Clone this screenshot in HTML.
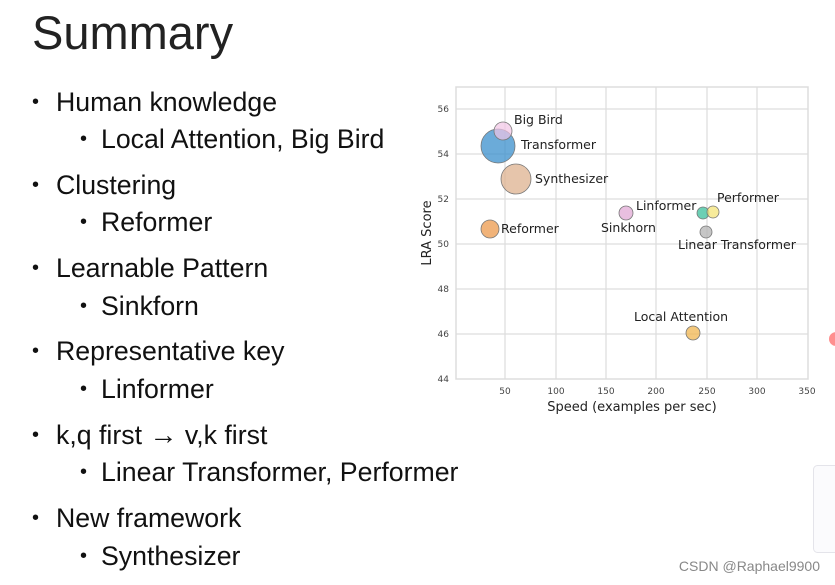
<!DOCTYPE html>
<html><head><meta charset="utf-8"><style>
body{margin:0;width:835px;height:585px;background:#fff;position:relative;overflow:hidden;font-family:"Liberation Sans",sans-serif;color:#111}
.t{position:absolute;white-space:nowrap;font-size:26.7px;line-height:30px}
.b{position:absolute;font-size:20px;line-height:30px}
</style></head><body>
<div class="t" style="left:32px;top:5px;font-size:47px;line-height:56px;color:#222">Summary</div>
<div class="b" style="left:32px;top:87px">•</div><div class="t" style="left:56px;top:87px">Human knowledge</div>
<div class="b" style="left:80px;top:124px">•</div><div class="t" style="left:101px;top:124px">Local Attention, Big Bird</div>
<div class="b" style="left:32px;top:170px">•</div><div class="t" style="left:56px;top:170px">Clustering</div>
<div class="b" style="left:80px;top:207px">•</div><div class="t" style="left:101px;top:207px">Reformer</div>
<div class="b" style="left:32px;top:253px">•</div><div class="t" style="left:56px;top:253px">Learnable Pattern</div>
<div class="b" style="left:80px;top:291px">•</div><div class="t" style="left:101px;top:291px">Sinkforn</div>
<div class="b" style="left:32px;top:336px">•</div><div class="t" style="left:56px;top:336px">Representative key</div>
<div class="b" style="left:80px;top:374px">•</div><div class="t" style="left:101px;top:374px">Linformer</div>
<div class="b" style="left:32px;top:420px">•</div><div class="t" style="left:56px;top:420px">k,q first <span style="font-size:28px">→</span> v,k first</div>
<div class="b" style="left:80px;top:457px">•</div><div class="t" style="left:101px;top:457px">Linear Transformer, Performer</div>
<div class="b" style="left:32px;top:503px">•</div><div class="t" style="left:56px;top:503px">New framework</div>
<div class="b" style="left:80px;top:541px">•</div><div class="t" style="left:101px;top:541px">Synthesizer</div>

<svg width="835" height="585" style="position:absolute;left:0;top:0" font-family="DejaVu Sans, sans-serif">
<rect x="456" y="87" width="352" height="292" fill="#fff" stroke="#ddd" stroke-width="1.5"/>
<g stroke="#ddd" stroke-width="1.2">
<line x1="505" y1="87" x2="505" y2="379"/><line x1="556" y1="87" x2="556" y2="379"/><line x1="606" y1="87" x2="606" y2="379"/><line x1="656" y1="87" x2="656" y2="379"/><line x1="707" y1="87" x2="707" y2="379"/><line x1="757" y1="87" x2="757" y2="379"/>
<line x1="456" y1="109" x2="808" y2="109"/><line x1="456" y1="154" x2="808" y2="154"/><line x1="456" y1="199" x2="808" y2="199"/><line x1="456" y1="244" x2="808" y2="244"/><line x1="456" y1="289" x2="808" y2="289"/><line x1="456" y1="334" x2="808" y2="334"/>
</g>
<g font-size="9" fill="#444" text-anchor="end">
<text x="449" y="112">56</text><text x="449" y="157">54</text><text x="449" y="202">52</text><text x="449" y="247">50</text><text x="449" y="292">48</text><text x="449" y="337">46</text><text x="449" y="382">44</text>
</g>
<g font-size="9" fill="#444" text-anchor="middle">
<text x="505" y="394">50</text><text x="556" y="394">100</text><text x="606" y="394">150</text><text x="656" y="394">200</text><text x="707" y="394">250</text><text x="757" y="394">300</text><text x="807" y="394">350</text>
</g>
<text x="632" y="411" font-size="13" fill="#222" text-anchor="middle">Speed (examples per sec)</text>
<text transform="translate(431,233) rotate(-90)" font-size="13" fill="#222" text-anchor="middle">LRA Score</text>
<g stroke="#777" stroke-width="0.8" fill-opacity="0.75">
<circle cx="498" cy="146" r="17" fill="#3a8fcc"/>
<circle cx="503" cy="131" r="9" fill="#f2c4e6" fill-opacity="0.7"/>
<circle cx="516" cy="179" r="15" fill="#ddb18f"/>
<circle cx="490" cy="229" r="9" fill="#ec9a4c"/>
<circle cx="626" cy="213" r="7" fill="#e2aad6"/>
<circle cx="703" cy="213" r="6" fill="#3bbf9b"/>
<circle cx="713" cy="212" r="6" fill="#f4e47a"/>
<circle cx="706" cy="232" r="6" fill="#b3b3b3"/>
<circle cx="693" cy="333" r="7" fill="#f0b650"/>
</g>
<g font-size="12.5" fill="#222">
<text x="514" y="124">Big Bird</text>
<text x="521" y="149">Transformer</text>
<text x="535" y="183">Synthesizer</text>
<text x="501" y="233">Reformer</text>
<text x="601" y="232">Sinkhorn</text>
<text x="636" y="210">Linformer</text>
<text x="717" y="202">Performer</text>
<text x="678" y="249">Linear Transformer</text>
<text x="634" y="321">Local Attention</text>
</g>
<circle cx="836" cy="339" r="7" fill="#f44" opacity="0.6"/>
<rect x="813.5" y="465.5" width="30" height="87" rx="4" fill="#fbfbfd" stroke="#e4e4ea"/>
<text x="820" y="571" font-family="Liberation Sans, sans-serif" font-size="14" fill="#888" text-anchor="end">CSDN @Raphael9900</text>
</svg>
</body></html>
